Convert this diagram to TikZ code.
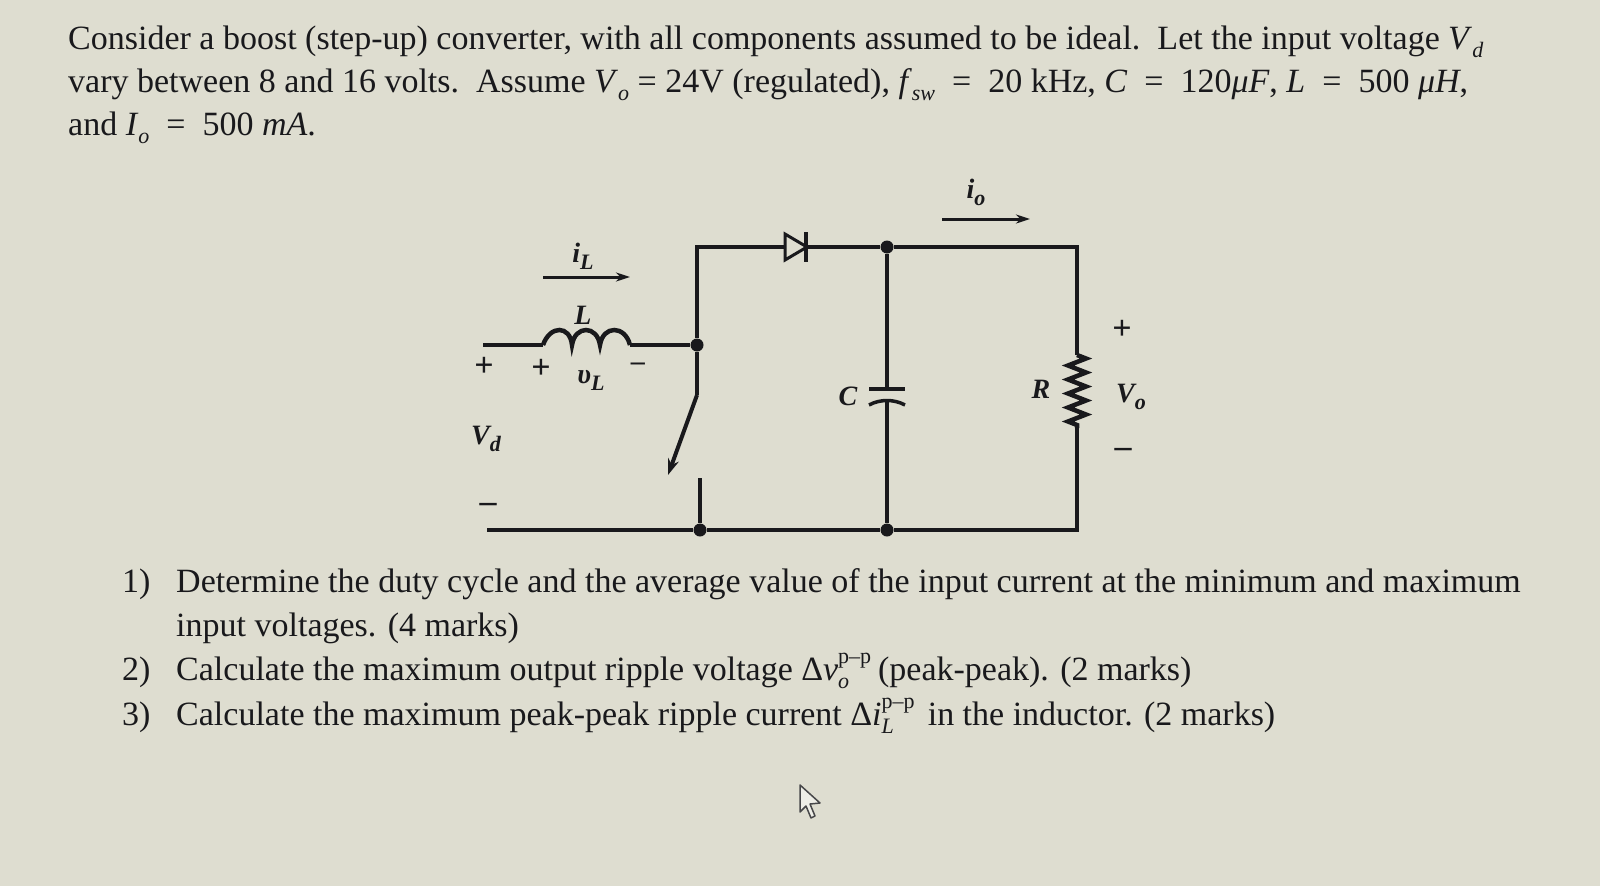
\documentclass[tikz,border=0pt]{standalone}
\usepackage{fontspec}
\setmainfont{Liberation Serif}
\usetikzlibrary{arrows.meta,decorations.pathmorphing}
\definecolor{bg}{RGB}{222,221,208}
\definecolor{ink}{RGB}{25,25,28}
\newcommand{\vi}[1]{\textit{#1}}
\newcommand{\sbs}[1]{\raisebox{-0.25em}{\fontsize{22}{22}\selectfont\textit{#1}}}
\begin{document}
\begin{tikzpicture}[x=1pt,y=-1pt,
  txt/.style={anchor=base west,inner sep=0,text=ink,font=\fontsize{34}{44}\selectfont},
  lbl/.style={inner sep=0,text=ink,font=\fontsize{28}{30}\selectfont\bfseries\itshape},
  sgn/.style={inner sep=0,text=ink,font=\fontsize{34}{30}\selectfont\bfseries},
  wire/.style={draw=ink,line width=4.5pt},
  dot/.style={circle,fill=ink,inner sep=0,minimum size=13pt},
  arr/.style={draw=ink,line width=3pt,-{Stealth[length=14pt,width=9pt]}}]
\fill[bg] (0,0) rectangle (1600,886);
\useasboundingbox (0,0) rectangle (1600,886);
% header text
\node[txt] (t1) at (68,49) {Consider a boost (step-up) converter, with all components assumed to be ideal.\ \ Let the input voltage \vi{V}\sbs{d}};
\node[txt] (t2) at (68,92) {vary between 8 and 16 volts.\ \ Assume \vi{V}\sbs{o} = 24V (regulated), \vi{f}\sbs{sw}\ \ =\ \ 20 kHz, \vi{C}\ \ =\ \ 120\vi{μF}, \vi{L}\ \ =\ \ 500 \vi{μH},};
\node[txt] (t3) at (68,135) {and \vi{I}\sbs{o}\ \ =\ \ 500 \vi{mA}.};
% circuit coordinates
\coordinate (a) at (483,345);
\coordinate (l1) at (543,345);
\coordinate (l2) at (630,345);
\node[dot] (n1) at (697,345) {};
\coordinate (tl) at (697,247);
\coordinate (d1) at (785,247);
\coordinate (d2) at (808,247);
\node[dot] (n2) at (887,247) {};
\coordinate (tr) at (1077,247);
\coordinate (r1) at (1077,355);
\coordinate (r2) at (1077,428);
\coordinate (br) at (1077,530);
\node[dot] (n3) at (887,530) {};
\node[dot] (n4) at (700,530) {};
\coordinate (bl) at (487,530);
\coordinate (c1) at (887,389);
\coordinate (c2) at (887,401);
% wires
\draw[wire] (a) -- (l1);
\draw[wire] (l1) .. controls (550,325) and (570,325) .. (572,345)
            .. controls (575,325) and (597,325) .. (600,345)
            .. controls (603,325) and (625,325) .. (630,345);
\draw[wire] (l2) -- (n1) -- (tl) -- (d1);
\draw[wire] (d2) -- (n2) -- (tr) -- (r1);
\draw[wire,decorate,decoration={zigzag,segment length=14pt,amplitude=9pt}] (r1) -- (r2);
\draw[wire] (r2) -- (br) -- (n3) -- (n4) -- (bl);
\draw[wire] (n2) -- (c1);
\draw[wire] (c2) -- (n3);
\draw[draw=ink,line width=3.5pt] (869,389) -- (905,389);
\draw[draw=ink,line width=3.5pt] (869,405) .. controls (880,399) and (894,399) .. (905,405);
% diode
\draw[draw=ink,line width=3pt,fill=bg] (d1) ++(0,-13) -- ++(22,13) -- ++(-22,13) -- cycle;
\draw[draw=ink,line width=3.5pt] (806,232) -- (806,262);
% switch
\draw[wire] (n1) -- (697,395);
\draw[draw=ink,line width=4pt,-{Stealth[length=16pt,width=11pt]}] (697,395) -- (668,475);
\draw[wire] (700,478) -- (n4);
% current arrows
\draw[arr] (543,277) -- (630,277);
\draw[arr] (942,219) -- (1030,219);
% labels
\node[lbl] (iL) at (583,256) {i\sbs{\bfseries L}};
\node[lbl] (Lb) at (583,315) {L};
\node[sgn] (p1) at (484,367) {+};
\node[sgn] (p2) at (541,369) {+};
\node[lbl] (vL) at (591,380) {υ\sbs{\bfseries L}};
\node[lbl] (m1) at (638,367) {–};
\node[lbl] (Vd) at (486,439) {V\sbs{\bfseries d}};
\node[sgn] (m2) at (488,508) {–};
\node[lbl] (io) at (976,192) {i\sbs{\bfseries o}};
\node[lbl] (Cb) at (848,396) {C};
\node[lbl] (Rb) at (1041,389) {R};
\node[sgn] (p3) at (1122,330) {+};
\node[lbl] (Vo) at (1131,397) {V\sbs{\bfseries o}};
\node[sgn] (m3) at (1123,453) {–};
% questions
\node[txt] (q1n) at (122,592) {1)};
\node[txt] (q1) at (176,592) {Determine the duty cycle and the average value of the input current at the minimum and maximum};
\node[txt] (q1b) at (176,636) {input voltages. (4 marks)};
\node[txt] (q2n) at (122,680) {2)};
\node[txt] (q2) at (176,680) {Calculate the maximum output ripple voltage Δ\vi{v}\raisebox{0.5em}{\makebox[0pt][l]{\fontsize{22}{22}\selectfont p–p}}\sbs{o}\hspace{0.85em}(peak-peak). (2 marks)};
\node[txt] (q3n) at (122,725) {3)};
\node[txt] (q3) at (176,725) {Calculate the maximum peak-peak ripple current Δ\vi{i}\raisebox{0.5em}{\makebox[0pt][l]{\fontsize{22}{22}\selectfont p–p}}\sbs{L}\hspace{0.75em} in the inductor. (2 marks)};
% cursor
\draw[draw=ink!80,line width=1.5pt,fill=bg!50!white,line join=round] (800,785) -- (800,812) -- (806,806) -- (811,818) -- (815,816) -- (810,804) -- (820,803) -- cycle;
\end{tikzpicture}
\end{document}
